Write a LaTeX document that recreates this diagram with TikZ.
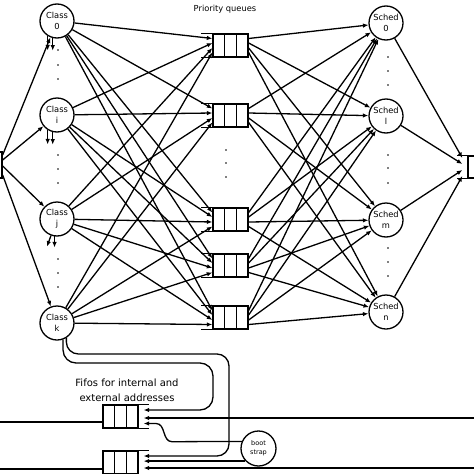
\documentclass[tikz,border=0pt]{standalone}
\usepackage{fontspec}
\setmainfont{DejaVu Sans}
\usetikzlibrary{arrows.meta,calc}
\begin{document}
\begin{tikzpicture}[x=1pt,y=-1pt, line width=1.3pt,
  arr/.style={-{Latex[length=5.5pt,width=4.5pt]}},
  cnode/.style={circle,draw,minimum size=34pt,inner sep=0pt,align=center,font=\fontsize{8.3}{11}\selectfont},
  qbox/.style={draw,minimum width=35pt,minimum height=23pt,inner sep=0pt},
  lbl/.style={font=\fontsize{8.3}{10}\selectfont}]
\clip (0,0) rectangle (474,474);
% class and scheduler nodes
\node[cnode] (c0) at (57,21) {Class\\0};
\node[cnode] (ci) at (57,115) {Class\\i};
\node[cnode] (cj) at (57,219) {Class\\j};
\node[cnode] (ck) at (57,323) {Class\\k};
\node[cnode] (s0) at (386,23) {Sched\\0};
\node[cnode] (sl) at (386,116) {Sched\\l};
\node[cnode] (sm) at (386,220) {Sched\\m};
\node[cnode] (sn) at (386,312) {Sched\\n};
\node[lbl] (title) at (225,9) {Priority queues};
% priority queues
\foreach \n/\y in {q1/45.5,q2/115.5,q3/219.5,q4/265.5,q5/317.5} {
  \node[qbox] (\n) at (230.5,\y) {};
  \draw ($(\n.north west)+(-11,0)$) -- (\n.north west);
  \draw ($(\n.south west)+(-11,0)$) -- (\n.south west);
  \draw ($(\n.north west)!1/3!(\n.north east)$) -- ($(\n.south west)!1/3!(\n.south east)$);
  \draw ($(\n.north west)!2/3!(\n.north east)$) -- ($(\n.south west)!2/3!(\n.south east)$);
}
% input (left) and output (right) queues
\node[qbox,minimum width=30pt,minimum height=26pt] (iq) at (-13,165) {};
\node[qbox,minimum width=32pt,minimum height=22pt] (oq) at (484,167) {};
\draw ($(oq.north west)+(-10,0)$) -- (oq.north west);
\draw ($(oq.south west)+(-10,0)$) -- (oq.south west);
% connections
\foreach \c/\o in {c0/-10,ci/-5,cj/1,ck/10}
  \draw[arr] ($(iq.east)+(0,\o)$) -- (\c);
\foreach \c/\oc in {c0/-7,ci/-2.5,cj/2.5,ck/7}
  \foreach \q in {q1,q2,q3,q4,q5}
    \draw[arr] (\c) -- ($(\q.west)+(0,\oc)$);
\foreach \q in {q1,q2,q3,q4,q5}
  \foreach \s/\os in {s0/-7,sl/-2.5,sm/2.5,sn/7}
    \draw[arr] ($(\q.east)+(0,\os)$) -- (\s);
\foreach \s/\o in {s0/-9,sl/-3,sm/3,sn/9}
  \draw[arr] (\s) -- ($(oq.west)+(-5,\o)$);
% small outgoing arrows under classes
\draw[arr] (c0.238) -- ++(0,14.5);
\draw[arr] (c0.256) -- ++(0,12.5);
\draw[arr] (ci.238) -- ++(0,14.5);
\draw[arr] (ci.256) -- ++(0,12.5);
\draw[arr] (cj.250) -- ++(-4,11);
\draw[arr] (cj.262) -- ++(0,11);
% dots
\foreach \x/\y in {58/50,58/65,58/79,58/155,58/169,58/183,58/259,58/273,58/287,
  226/150,226/163,226/177,388/57,388/71,388/85,388/155,388/168,388/183,388/248,388/262,388/276}
  \fill (\x,\y) circle (0.9pt);
% bottom fifos
\foreach \n/\y in {f1/416.5,f2/462.5} {
  \node[qbox] (\n) at (120.5,\y) {};
  \draw ($(\n.north east)+(10,0)$) -- (\n.north east);
  \draw ($(\n.south east)+(10,0)$) -- (\n.south east);
  \draw ($(\n.north west)!1/3!(\n.north east)$) -- ($(\n.south west)!1/3!(\n.south east)$);
  \draw ($(\n.north west)!2/3!(\n.north east)$) -- ($(\n.south west)!2/3!(\n.south east)$);
}
\node[font=\fontsize{10}{15}\selectfont,align=center] (ftxt) at (127,390) {Fifos for internal and\\external addresses};
\node[circle,draw,minimum size=35pt,inner sep=0pt,align=center,font=\fontsize{6.5}{9}\selectfont] (bs) at (258.5,448.5) {boot\\strap};
\coordinate (f1l) at (0,422);
\coordinate (f2l) at (0,469);
\coordinate (r1) at (474,418);
\coordinate (r2) at (474,468);
\draw (f1.west |- f1l) -- (f1l);
\draw (f2.west |- f2l) -- (f2l);
\draw[arr] (r1) -- ($(f1.east |- r1)+(5,0)$);
\draw[arr] (r2) -- ($(f2.east |- r2)+(5,0)$);
\draw[arr,rounded corners=13pt] (ck.290) -- (ck.290 |- 0,363) -- (213,363) -- (213,410) -- ($(f1.east)+(5,-6.5)$);
\draw[arr,rounded corners=12pt] (ck.302) -- (ck.302 |- 0,354) -- (229,354) -- (229,456) -- ($(f2.east)+(5,-6.5)$);
\draw[arr] (bs.157) -- (172,441.7) .. controls (162,441.7) and (166,423.5) .. (156,423.5) -- ($(f1.east)+(5,7)$);
\draw[arr] (bs.224) -- ($(f2.east |- bs.224)+(5,0)$);
\end{tikzpicture}
\end{document}
